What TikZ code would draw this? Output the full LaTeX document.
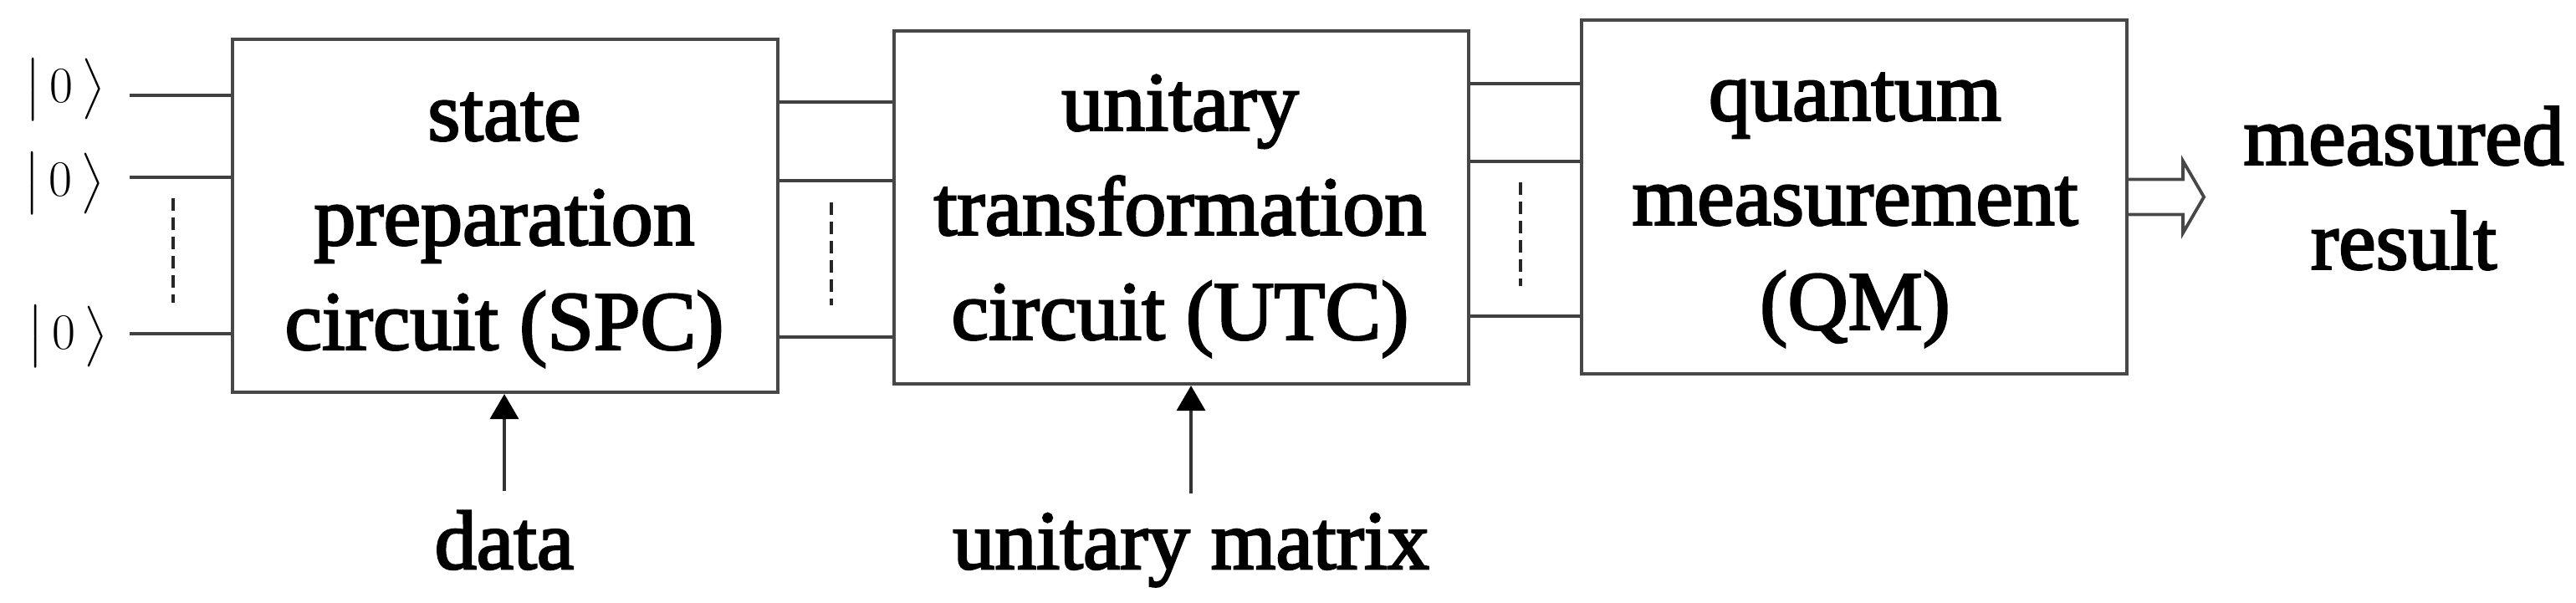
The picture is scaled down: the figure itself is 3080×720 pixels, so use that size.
\documentclass[tikz,border=0pt]{standalone}
\usepackage{amsmath}
\usepackage{exscale}
\usepackage{fontspec}
\setmainfont{Liberation Serif}[FakeBold=2.5]
\usetikzlibrary{arrows.meta}
\begin{document}
\begin{tikzpicture}[x=0.1mm,y=-0.1mm,
  blk/.style={draw=black!72, line width=0.42mm, inner sep=0pt},
  lbl/.style={font=\fontsize{28.45}{35.57}\selectfont, align=center, inner sep=0pt},
  ket/.style={font=\fontsize{17.6}{20}\selectfont, inner sep=0pt},
  wire/.style={draw=black!75, line width=0.42mm},
  dotsline/.style={draw=black!85, line width=0.42mm, dash pattern=on 1.5mm off 0.8mm},
  arr/.style={draw=black!80, line width=0.38mm, -{Triangle[length=3mm, width=3.4mm, color=black]}, shorten <=2.3mm},
  hollow/.style={draw=black!72, line width=0.38mm, line join=miter}]
\useasboundingbox (0,0) rectangle (3080,720);

% boxes
\node[blk, minimum width=65.2mm, minimum height=42.2mm] (spc) at (604,258) {};
\node[blk, minimum width=68.7mm, minimum height=42.2mm] (utc) at (1412.5,248) {};
\node[blk, minimum width=65.2mm, minimum height=42.3mm] (qm) at (2217,235.5) {};

% box texts
\node[lbl, anchor=north] (spct) at (603,79.5) {state\strut\\preparation\strut\\circuit (SPC)\strut};
\node[lbl, anchor=north] (utct) at (1411,67.5) {unitary\strut\\transformation\strut\\circuit (UTC)\strut};
\node[lbl, anchor=north] (qmt) at (2218,55.5) {quantum\strut\\measurement\strut\\(QM)\strut};
\node[lbl, anchor=north] (res) at (2874,108.5) {measured\strut\\result\strut};
\node[lbl, anchor=base] (dat) at (603,680) {data};
\node[lbl, anchor=base] (um) at (1424,680) {unitary matrix};

% kets
\node[ket] (k1) at (78,107) {$\bigl|\,0\,\bigr\rangle$};
\node[ket] (k2) at (77,219) {$\bigl|\,0\,\bigr\rangle$};
\node[ket] (k3) at (81,402) {$\bigl|\,0\,\bigr\rangle$};

% wire levels
\coordinate (a1) at (155,114);
\coordinate (a2) at (155,212);
\coordinate (a3) at (155,399);
\coordinate (b1) at (0,122);
\coordinate (b2) at (0,216);
\coordinate (b3) at (0,403);
\coordinate (c1) at (0,100);
\coordinate (c2) at (0,193);
\coordinate (c3) at (0,378);

\draw[wire] (a1) -- (a1 -| spc.west);
\draw[wire] (a2) -- (a2 -| spc.west);
\draw[wire] (a3) -- (a3 -| spc.west);
\draw[wire] (spc.east |- b1) -- (utc.west |- b1);
\draw[wire] (spc.east |- b2) -- (utc.west |- b2);
\draw[wire] (spc.east |- b3) -- (utc.west |- b3);
\draw[wire] (utc.east |- c1) -- (qm.west |- c1);
\draw[wire] (utc.east |- c2) -- (qm.west |- c2);
\draw[wire] (utc.east |- c3) -- (qm.west |- c3);

% vertical dashed ellipses
\draw[dotsline] (207,237) -- (207,362);
\draw[dotsline] (994,242) -- (994,365);
\draw[dotsline] (1818,218) -- (1818,342);

% input arrows
\draw[arr] (dat.north) -- (dat.north |- spc.south);
\draw[arr] (um.north) -- (um.north |- utc.south);

% hollow output arrow
\draw[hollow] (qm.east) ++(0,-21) -- ++(65,0) -- ++(0,-22) -- ++(25,43) -- ++(-25,43) -- ++(0,-22) -- ++(-65,0);
\end{tikzpicture}
\end{document}
